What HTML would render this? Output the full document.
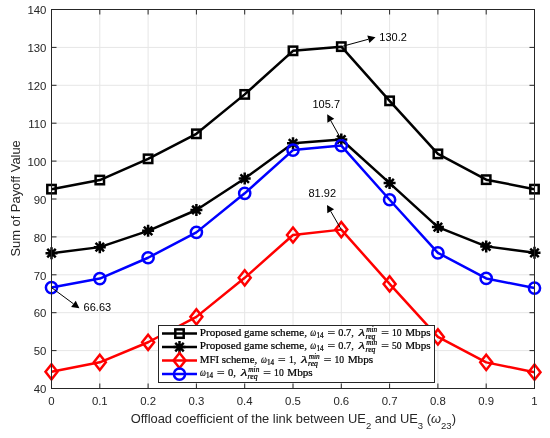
<!DOCTYPE html>
<html><head><meta charset="utf-8"><title>Sum of Payoff Value</title>
<style>
html,body{margin:0;padding:0;background:#fff;}
body{width:550px;height:438px;overflow:hidden;}
svg{display:block;font-family:"Liberation Sans", Arial, Helvetica, sans-serif;}
</style></head><body>
<svg width="550" height="438" viewBox="0 0 550 438">
<rect width="550" height="438" fill="#fff"/>
<path d="M99.8 9.5V388.5M148.1 9.5V388.5M196.4 9.5V388.5M244.7 9.5V388.5M293 9.5V388.5M341.3 9.5V388.5M389.6 9.5V388.5M437.9 9.5V388.5M486.2 9.5V388.5M51.5 350.6H534.5M51.5 312.7H534.5M51.5 274.8H534.5M51.5 236.9H534.5M51.5 199H534.5M51.5 161.1H534.5M51.5 123.2H534.5M51.5 85.3H534.5M51.5 47.4H534.5" stroke="#e6e6e6" stroke-width="1" fill="none"/>
<path d="M51.5 388.5v-5M51.5 9.5v5M99.8 388.5v-5M99.8 9.5v5M148.1 388.5v-5M148.1 9.5v5M196.4 388.5v-5M196.4 9.5v5M244.7 388.5v-5M244.7 9.5v5M293 388.5v-5M293 9.5v5M341.3 388.5v-5M341.3 9.5v5M389.6 388.5v-5M389.6 9.5v5M437.9 388.5v-5M437.9 9.5v5M486.2 388.5v-5M486.2 9.5v5M534.5 388.5v-5M534.5 9.5v5M51.5 388.5h5M534.5 388.5h-5M51.5 350.6h5M534.5 350.6h-5M51.5 312.7h5M534.5 312.7h-5M51.5 274.8h5M534.5 274.8h-5M51.5 236.9h5M534.5 236.9h-5M51.5 199h5M534.5 199h-5M51.5 161.1h5M534.5 161.1h-5M51.5 123.2h5M534.5 123.2h-5M51.5 85.3h5M534.5 85.3h-5M51.5 47.4h5M534.5 47.4h-5M51.5 9.5h5M534.5 9.5h-5" stroke="#262626" stroke-width="1" fill="none"/>
<polyline points="51.5,189.15 99.8,180.05 148.1,158.83 196.4,133.81 244.7,94.4 293,50.81 341.3,46.64 389.6,100.84 437.9,153.9 486.2,179.67 534.5,189.15" stroke="#000" stroke-width="2.5" fill="none" stroke-linejoin="round"/>
<rect x="47.3" y="184.95" width="8.4" height="8.4" stroke="#000" stroke-width="2.5" fill="none"/>
<rect x="95.6" y="175.85" width="8.4" height="8.4" stroke="#000" stroke-width="2.5" fill="none"/>
<rect x="143.9" y="154.63" width="8.4" height="8.4" stroke="#000" stroke-width="2.5" fill="none"/>
<rect x="192.2" y="129.61" width="8.4" height="8.4" stroke="#000" stroke-width="2.5" fill="none"/>
<rect x="240.5" y="90.2" width="8.4" height="8.4" stroke="#000" stroke-width="2.5" fill="none"/>
<rect x="288.8" y="46.61" width="8.4" height="8.4" stroke="#000" stroke-width="2.5" fill="none"/>
<rect x="337.1" y="42.44" width="8.4" height="8.4" stroke="#000" stroke-width="2.5" fill="none"/>
<rect x="385.4" y="96.64" width="8.4" height="8.4" stroke="#000" stroke-width="2.5" fill="none"/>
<rect x="433.7" y="149.7" width="8.4" height="8.4" stroke="#000" stroke-width="2.5" fill="none"/>
<rect x="482" y="175.47" width="8.4" height="8.4" stroke="#000" stroke-width="2.5" fill="none"/>
<rect x="530.3" y="184.95" width="8.4" height="8.4" stroke="#000" stroke-width="2.5" fill="none"/>
<polyline points="51.5,253.2 99.8,247.13 148.1,230.84 196.4,209.99 244.7,178.53 293,143.29 341.3,139.5 389.6,183.08 437.9,227.05 486.2,246.38 534.5,252.82" stroke="#000" stroke-width="2.5" fill="none" stroke-linejoin="round"/>
<path d="M45.5 253.2h12M51.5 247.2v12M47.26 248.96l8.48 8.48M47.26 257.44l8.48 -8.48" stroke="#000" stroke-width="2.5" fill="none"/>
<path d="M93.8 247.13h12M99.8 241.13v12M95.56 242.89l8.48 8.48M95.56 251.38l8.48 -8.48" stroke="#000" stroke-width="2.5" fill="none"/>
<path d="M142.1 230.84h12M148.1 224.84v12M143.86 226.59l8.48 8.48M143.86 235.08l8.48 -8.48" stroke="#000" stroke-width="2.5" fill="none"/>
<path d="M190.4 209.99h12M196.4 203.99v12M192.16 205.75l8.48 8.48M192.16 214.23l8.48 -8.48" stroke="#000" stroke-width="2.5" fill="none"/>
<path d="M238.7 178.53h12M244.7 172.53v12M240.46 174.29l8.48 8.48M240.46 182.78l8.48 -8.48" stroke="#000" stroke-width="2.5" fill="none"/>
<path d="M287 143.29h12M293 137.29v12M288.76 139.05l8.48 8.48M288.76 147.53l8.48 -8.48" stroke="#000" stroke-width="2.5" fill="none"/>
<path d="M335.3 139.5h12M341.3 133.5v12M337.06 135.26l8.48 8.48M337.06 143.74l8.48 -8.48" stroke="#000" stroke-width="2.5" fill="none"/>
<path d="M383.6 183.08h12M389.6 177.08v12M385.36 178.84l8.48 8.48M385.36 187.32l8.48 -8.48" stroke="#000" stroke-width="2.5" fill="none"/>
<path d="M431.9 227.05h12M437.9 221.05v12M433.66 222.8l8.48 8.48M433.66 231.29l8.48 -8.48" stroke="#000" stroke-width="2.5" fill="none"/>
<path d="M480.2 246.38h12M486.2 240.38v12M481.96 242.13l8.48 8.48M481.96 250.62l8.48 -8.48" stroke="#000" stroke-width="2.5" fill="none"/>
<path d="M528.5 252.82h12M534.5 246.82v12M530.26 248.58l8.48 8.48M530.26 257.06l8.48 -8.48" stroke="#000" stroke-width="2.5" fill="none"/>
<polyline points="51.5,371.82 99.8,362.35 148.1,342.26 196.4,316.87 244.7,277.83 293,235 341.3,229.62 389.6,283.9 437.9,336.96 486.2,362.35 534.5,372.2" stroke="#f00" stroke-width="2.5" fill="none" stroke-linejoin="round"/>
<path d="M51.5 364.22L57.5 371.82L51.5 379.42L45.5 371.82Z" stroke="#f00" stroke-width="2.5" fill="none" stroke-linejoin="miter"/>
<path d="M99.8 354.75L105.8 362.35L99.8 369.95L93.8 362.35Z" stroke="#f00" stroke-width="2.5" fill="none" stroke-linejoin="miter"/>
<path d="M148.1 334.66L154.1 342.26L148.1 349.86L142.1 342.26Z" stroke="#f00" stroke-width="2.5" fill="none" stroke-linejoin="miter"/>
<path d="M196.4 309.27L202.4 316.87L196.4 324.47L190.4 316.87Z" stroke="#f00" stroke-width="2.5" fill="none" stroke-linejoin="miter"/>
<path d="M244.7 270.23L250.7 277.83L244.7 285.43L238.7 277.83Z" stroke="#f00" stroke-width="2.5" fill="none" stroke-linejoin="miter"/>
<path d="M293 227.41L299 235L293 242.6L287 235Z" stroke="#f00" stroke-width="2.5" fill="none" stroke-linejoin="miter"/>
<path d="M341.3 222.02L347.3 229.62L341.3 237.22L335.3 229.62Z" stroke="#f00" stroke-width="2.5" fill="none" stroke-linejoin="miter"/>
<path d="M389.6 276.3L395.6 283.9L389.6 291.5L383.6 283.9Z" stroke="#f00" stroke-width="2.5" fill="none" stroke-linejoin="miter"/>
<path d="M437.9 329.36L443.9 336.96L437.9 344.56L431.9 336.96Z" stroke="#f00" stroke-width="2.5" fill="none" stroke-linejoin="miter"/>
<path d="M486.2 354.75L492.2 362.35L486.2 369.95L480.2 362.35Z" stroke="#f00" stroke-width="2.5" fill="none" stroke-linejoin="miter"/>
<path d="M534.5 364.6L540.5 372.2L534.5 379.8L528.5 372.2Z" stroke="#f00" stroke-width="2.5" fill="none" stroke-linejoin="miter"/>
<polyline points="51.5,287.57 99.8,278.59 148.1,257.75 196.4,232.35 244.7,193.31 293,150.11 341.3,145.56 389.6,199.76 437.9,252.82 486.2,278.4 534.5,288.06" stroke="#00f" stroke-width="2.5" fill="none" stroke-linejoin="round"/>
<circle cx="51.5" cy="287.57" r="5.6" stroke="#00f" stroke-width="2.5" fill="none"/>
<circle cx="99.8" cy="278.59" r="5.6" stroke="#00f" stroke-width="2.5" fill="none"/>
<circle cx="148.1" cy="257.75" r="5.6" stroke="#00f" stroke-width="2.5" fill="none"/>
<circle cx="196.4" cy="232.35" r="5.6" stroke="#00f" stroke-width="2.5" fill="none"/>
<circle cx="244.7" cy="193.31" r="5.6" stroke="#00f" stroke-width="2.5" fill="none"/>
<circle cx="293" cy="150.11" r="5.6" stroke="#00f" stroke-width="2.5" fill="none"/>
<circle cx="341.3" cy="145.56" r="5.6" stroke="#00f" stroke-width="2.5" fill="none"/>
<circle cx="389.6" cy="199.76" r="5.6" stroke="#00f" stroke-width="2.5" fill="none"/>
<circle cx="437.9" cy="252.82" r="5.6" stroke="#00f" stroke-width="2.5" fill="none"/>
<circle cx="486.2" cy="278.4" r="5.6" stroke="#00f" stroke-width="2.5" fill="none"/>
<circle cx="534.5" cy="288.06" r="5.6" stroke="#00f" stroke-width="2.5" fill="none"/>
<rect x="51.5" y="9.5" width="483.0" height="379.0" stroke="#262626" stroke-width="1" fill="none"/>
<path d="M341.3 46.64L368.36 39.25" stroke="#000" stroke-width="1" fill="none"/><path d="M375.5 37.3L369.39 43.01L367.33 35.49Z" fill="#000"/>
<path d="M341.3 139.5L330.81 120.76" stroke="#000" stroke-width="1" fill="none"/><path d="M327.2 114.3L334.22 118.85L327.41 122.66Z" fill="#000"/>
<path d="M341.3 229.62L330.71 211.31" stroke="#000" stroke-width="1" fill="none"/><path d="M327 204.9L334.08 209.35L327.33 213.26Z" fill="#000"/>
<path d="M51.5 287.57L73.45 303.8" stroke="#000" stroke-width="1" fill="none"/><path d="M79.4 308.2L71.13 306.94L75.77 300.66Z" fill="#000"/>
<text x="379.3" y="41.3" font-size="11" fill="#000">130.2</text>
<text x="312.5" y="107.9" font-size="11" fill="#000">105.7</text>
<text x="308.5" y="196.6" font-size="11" fill="#000">81.92</text>
<text x="83.6" y="310.7" font-size="11" fill="#000">66.63</text>
<text x="51.5" y="405.2" font-size="11.4" fill="#262626" text-anchor="middle">0</text>
<text x="99.8" y="405.2" font-size="11.4" fill="#262626" text-anchor="middle">0.1</text>
<text x="148.1" y="405.2" font-size="11.4" fill="#262626" text-anchor="middle">0.2</text>
<text x="196.4" y="405.2" font-size="11.4" fill="#262626" text-anchor="middle">0.3</text>
<text x="244.7" y="405.2" font-size="11.4" fill="#262626" text-anchor="middle">0.4</text>
<text x="293" y="405.2" font-size="11.4" fill="#262626" text-anchor="middle">0.5</text>
<text x="341.3" y="405.2" font-size="11.4" fill="#262626" text-anchor="middle">0.6</text>
<text x="389.6" y="405.2" font-size="11.4" fill="#262626" text-anchor="middle">0.7</text>
<text x="437.9" y="405.2" font-size="11.4" fill="#262626" text-anchor="middle">0.8</text>
<text x="486.2" y="405.2" font-size="11.4" fill="#262626" text-anchor="middle">0.9</text>
<text x="534.5" y="405.2" font-size="11.4" fill="#262626" text-anchor="middle">1</text>
<text x="46.4" y="393.2" font-size="11.4" fill="#262626" text-anchor="end">40</text>
<text x="46.4" y="355.3" font-size="11.4" fill="#262626" text-anchor="end">50</text>
<text x="46.4" y="317.4" font-size="11.4" fill="#262626" text-anchor="end">60</text>
<text x="46.4" y="279.5" font-size="11.4" fill="#262626" text-anchor="end">70</text>
<text x="46.4" y="241.6" font-size="11.4" fill="#262626" text-anchor="end">80</text>
<text x="46.4" y="203.7" font-size="11.4" fill="#262626" text-anchor="end">90</text>
<text x="46.4" y="165.8" font-size="11.4" fill="#262626" text-anchor="end">100</text>
<text x="46.4" y="127.9" font-size="11.4" fill="#262626" text-anchor="end">110</text>
<text x="46.4" y="90" font-size="11.4" fill="#262626" text-anchor="end">120</text>
<text x="46.4" y="52.1" font-size="11.4" fill="#262626" text-anchor="end">130</text>
<text x="46.4" y="14.2" font-size="11.4" fill="#262626" text-anchor="end">140</text>
<text transform="translate(19.6 198.4) rotate(-90)" font-size="12.9" fill="#262626" text-anchor="middle">Sum of Payoff Value</text>
<text x="293.3" y="422.8" font-size="12.9" fill="#262626" text-anchor="middle">Offload coefficient of the link between UE<tspan dy="6.1" font-size="9.5">2</tspan><tspan dy="-6.1"> and UE</tspan><tspan dy="6.1" font-size="9.5">3</tspan><tspan dy="-6.1"> (</tspan><tspan font-style="italic">ω</tspan><tspan dy="6.1" font-size="9.5">23</tspan><tspan dy="-6.1">)</tspan></text>
<rect x="158.5" y="325.5" width="276" height="57" fill="#fff" stroke="#262626" stroke-width="1"/>
<path d="M162 333.6H197" stroke="#000" stroke-width="2.5"/><rect x="175.3" y="329.4" width="8.4" height="8.4" stroke="#000" stroke-width="2.5" fill="none"/>
<path d="M162 347.1H197" stroke="#000" stroke-width="2.5"/><path d="M173.5 347.1h12M179.5 341.1v12M175.26 342.86l8.48 8.48M175.26 351.34l8.48 -8.48" stroke="#000" stroke-width="2.5" fill="none"/>
<path d="M162 360.5H197" stroke="#f00" stroke-width="2.5"/><path d="M179.5 352.9L185.5 360.5L179.5 368.1L173.5 360.5Z" stroke="#f00" stroke-width="2.5" fill="none" stroke-linejoin="miter"/>
<path d="M162 374.1H197" stroke="#00f" stroke-width="2.5"/><circle cx="179.5" cy="374.1" r="5.6" stroke="#00f" stroke-width="2.5" fill="none"/>
<text x="199.8" y="335.8" font-family='"Liberation Serif", "Times New Roman", serif' font-size="10.2" textLength="107.2" lengthAdjust="spacingAndGlyphs" fill="#000" stroke="#000" stroke-width="0.22">Proposed game scheme,</text><text x="310.3" y="335.8" font-family='"Liberation Serif", "Times New Roman", serif' font-size="10.2" font-style="italic" textLength="5.9" lengthAdjust="spacingAndGlyphs" fill="#000" stroke="#000" stroke-width="0.22">ω</text><text x="316.4" y="337.6" font-family='"Liberation Serif", "Times New Roman", serif' font-size="7.2" textLength="7.1" lengthAdjust="spacingAndGlyphs" fill="#000" stroke="#000" stroke-width="0.22">14</text><text x="327.5" y="335.8" font-family='"Liberation Serif", "Times New Roman", serif' font-size="10.2" textLength="7.6" lengthAdjust="spacingAndGlyphs" fill="#000" stroke="#000" stroke-width="0.22">=</text><text x="338.3" y="335.8" font-family='"Liberation Serif", "Times New Roman", serif' font-size="10.2" textLength="15.4" lengthAdjust="spacingAndGlyphs" fill="#000" stroke="#000" stroke-width="0.22">0.7,</text><text x="358.6" y="335.8" font-family='"Liberation Serif", "Times New Roman", serif' font-size="10.2" font-style="italic" textLength="6.6" lengthAdjust="spacingAndGlyphs" fill="#000" stroke="#000" stroke-width="0.22">λ</text><text x="366.2" y="331.7" font-family='"Liberation Serif", "Times New Roman", serif' font-size="7.2" font-style="italic" textLength="11" lengthAdjust="spacingAndGlyphs" fill="#000" stroke="#000" stroke-width="0.22">min</text><text x="365.5" y="338.9" font-family='"Liberation Serif", "Times New Roman", serif' font-size="7.2" font-style="italic" textLength="9.9" lengthAdjust="spacingAndGlyphs" fill="#000" stroke="#000" stroke-width="0.22">req</text><text x="381.2" y="335.8" font-family='"Liberation Serif", "Times New Roman", serif' font-size="10.2" textLength="7.6" lengthAdjust="spacingAndGlyphs" fill="#000" stroke="#000" stroke-width="0.22">=</text><text x="392" y="335.8" font-family='"Liberation Serif", "Times New Roman", serif' font-size="10.2" textLength="9.6" lengthAdjust="spacingAndGlyphs" fill="#000" stroke="#000" stroke-width="0.22">10</text><text x="405.2" y="335.8" font-family='"Liberation Serif", "Times New Roman", serif' font-size="10.2" textLength="25.4" lengthAdjust="spacingAndGlyphs" fill="#000" stroke="#000" stroke-width="0.22">Mbps</text>
<text x="199.8" y="349.3" font-family='"Liberation Serif", "Times New Roman", serif' font-size="10.2" textLength="107.2" lengthAdjust="spacingAndGlyphs" fill="#000" stroke="#000" stroke-width="0.22">Proposed game scheme,</text><text x="310.3" y="349.3" font-family='"Liberation Serif", "Times New Roman", serif' font-size="10.2" font-style="italic" textLength="5.9" lengthAdjust="spacingAndGlyphs" fill="#000" stroke="#000" stroke-width="0.22">ω</text><text x="316.4" y="351.1" font-family='"Liberation Serif", "Times New Roman", serif' font-size="7.2" textLength="7.1" lengthAdjust="spacingAndGlyphs" fill="#000" stroke="#000" stroke-width="0.22">14</text><text x="327.5" y="349.3" font-family='"Liberation Serif", "Times New Roman", serif' font-size="10.2" textLength="7.6" lengthAdjust="spacingAndGlyphs" fill="#000" stroke="#000" stroke-width="0.22">=</text><text x="338.3" y="349.3" font-family='"Liberation Serif", "Times New Roman", serif' font-size="10.2" textLength="15.4" lengthAdjust="spacingAndGlyphs" fill="#000" stroke="#000" stroke-width="0.22">0.7,</text><text x="358.6" y="349.3" font-family='"Liberation Serif", "Times New Roman", serif' font-size="10.2" font-style="italic" textLength="6.6" lengthAdjust="spacingAndGlyphs" fill="#000" stroke="#000" stroke-width="0.22">λ</text><text x="366.2" y="345.2" font-family='"Liberation Serif", "Times New Roman", serif' font-size="7.2" font-style="italic" textLength="11" lengthAdjust="spacingAndGlyphs" fill="#000" stroke="#000" stroke-width="0.22">min</text><text x="365.5" y="352.4" font-family='"Liberation Serif", "Times New Roman", serif' font-size="7.2" font-style="italic" textLength="9.9" lengthAdjust="spacingAndGlyphs" fill="#000" stroke="#000" stroke-width="0.22">req</text><text x="381.2" y="349.3" font-family='"Liberation Serif", "Times New Roman", serif' font-size="10.2" textLength="7.6" lengthAdjust="spacingAndGlyphs" fill="#000" stroke="#000" stroke-width="0.22">=</text><text x="392" y="349.3" font-family='"Liberation Serif", "Times New Roman", serif' font-size="10.2" textLength="9.6" lengthAdjust="spacingAndGlyphs" fill="#000" stroke="#000" stroke-width="0.22">50</text><text x="405.2" y="349.3" font-family='"Liberation Serif", "Times New Roman", serif' font-size="10.2" textLength="25.4" lengthAdjust="spacingAndGlyphs" fill="#000" stroke="#000" stroke-width="0.22">Mbps</text>
<text x="199.8" y="362.8" font-family='"Liberation Serif", "Times New Roman", serif' font-size="10.2" textLength="57.4" lengthAdjust="spacingAndGlyphs" fill="#000" stroke="#000" stroke-width="0.22">MFI scheme,</text><text x="260.9" y="362.8" font-family='"Liberation Serif", "Times New Roman", serif' font-size="10.2" font-style="italic" textLength="5.9" lengthAdjust="spacingAndGlyphs" fill="#000" stroke="#000" stroke-width="0.22">ω</text><text x="267" y="364.6" font-family='"Liberation Serif", "Times New Roman", serif' font-size="7.2" textLength="7.1" lengthAdjust="spacingAndGlyphs" fill="#000" stroke="#000" stroke-width="0.22">14</text><text x="278.1" y="362.8" font-family='"Liberation Serif", "Times New Roman", serif' font-size="10.2" textLength="7.6" lengthAdjust="spacingAndGlyphs" fill="#000" stroke="#000" stroke-width="0.22">=</text><text x="288.9" y="362.8" font-family='"Liberation Serif", "Times New Roman", serif' font-size="10.2" textLength="7.3" lengthAdjust="spacingAndGlyphs" fill="#000" stroke="#000" stroke-width="0.22">1,</text><text x="301.1" y="362.8" font-family='"Liberation Serif", "Times New Roman", serif' font-size="10.2" font-style="italic" textLength="6.6" lengthAdjust="spacingAndGlyphs" fill="#000" stroke="#000" stroke-width="0.22">λ</text><text x="308.7" y="358.7" font-family='"Liberation Serif", "Times New Roman", serif' font-size="7.2" font-style="italic" textLength="11" lengthAdjust="spacingAndGlyphs" fill="#000" stroke="#000" stroke-width="0.22">min</text><text x="308" y="365.9" font-family='"Liberation Serif", "Times New Roman", serif' font-size="7.2" font-style="italic" textLength="9.9" lengthAdjust="spacingAndGlyphs" fill="#000" stroke="#000" stroke-width="0.22">req</text><text x="323.7" y="362.8" font-family='"Liberation Serif", "Times New Roman", serif' font-size="10.2" textLength="7.6" lengthAdjust="spacingAndGlyphs" fill="#000" stroke="#000" stroke-width="0.22">=</text><text x="334.5" y="362.8" font-family='"Liberation Serif", "Times New Roman", serif' font-size="10.2" textLength="9.6" lengthAdjust="spacingAndGlyphs" fill="#000" stroke="#000" stroke-width="0.22">10</text><text x="347.7" y="362.8" font-family='"Liberation Serif", "Times New Roman", serif' font-size="10.2" textLength="25.4" lengthAdjust="spacingAndGlyphs" fill="#000" stroke="#000" stroke-width="0.22">Mbps</text>
<text x="199.9" y="376.3" font-family='"Liberation Serif", "Times New Roman", serif' font-size="10.2" font-style="italic" textLength="5.9" lengthAdjust="spacingAndGlyphs" fill="#000" stroke="#000" stroke-width="0.22">ω</text><text x="206" y="378.1" font-family='"Liberation Serif", "Times New Roman", serif' font-size="7.2" textLength="7.1" lengthAdjust="spacingAndGlyphs" fill="#000" stroke="#000" stroke-width="0.22">14</text><text x="217.1" y="376.3" font-family='"Liberation Serif", "Times New Roman", serif' font-size="10.2" textLength="7.6" lengthAdjust="spacingAndGlyphs" fill="#000" stroke="#000" stroke-width="0.22">=</text><text x="227.9" y="376.3" font-family='"Liberation Serif", "Times New Roman", serif' font-size="10.2" textLength="7.9" lengthAdjust="spacingAndGlyphs" fill="#000" stroke="#000" stroke-width="0.22">0,</text><text x="240.7" y="376.3" font-family='"Liberation Serif", "Times New Roman", serif' font-size="10.2" font-style="italic" textLength="6.6" lengthAdjust="spacingAndGlyphs" fill="#000" stroke="#000" stroke-width="0.22">λ</text><text x="248.3" y="372.2" font-family='"Liberation Serif", "Times New Roman", serif' font-size="7.2" font-style="italic" textLength="11" lengthAdjust="spacingAndGlyphs" fill="#000" stroke="#000" stroke-width="0.22">min</text><text x="247.6" y="379.4" font-family='"Liberation Serif", "Times New Roman", serif' font-size="7.2" font-style="italic" textLength="9.9" lengthAdjust="spacingAndGlyphs" fill="#000" stroke="#000" stroke-width="0.22">req</text><text x="263.3" y="376.3" font-family='"Liberation Serif", "Times New Roman", serif' font-size="10.2" textLength="7.6" lengthAdjust="spacingAndGlyphs" fill="#000" stroke="#000" stroke-width="0.22">=</text><text x="274.1" y="376.3" font-family='"Liberation Serif", "Times New Roman", serif' font-size="10.2" textLength="9.6" lengthAdjust="spacingAndGlyphs" fill="#000" stroke="#000" stroke-width="0.22">10</text><text x="287.3" y="376.3" font-family='"Liberation Serif", "Times New Roman", serif' font-size="10.2" textLength="25.4" lengthAdjust="spacingAndGlyphs" fill="#000" stroke="#000" stroke-width="0.22">Mbps</text>
</svg>
</body></html>
